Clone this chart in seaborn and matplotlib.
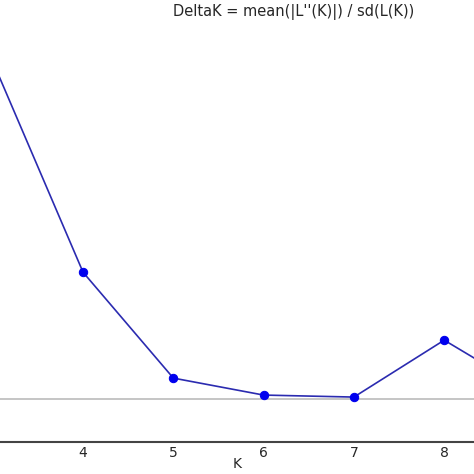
import numpy as np
import pandas as pd
import matplotlib
matplotlib.use("Agg")
import matplotlib.pyplot as plt
import seaborn as sns

# valeurs (unités arbitraires)
k_values = [3, 4, 5, 6, 7, 8, 9]
delta_k = [338, 127, 21, 4, 2, 59, 5]

df = pd.DataFrame({"K": k_values, "DeltaK": delta_k})

sns.set_style("white")
fig = plt.figure(figsize=(4.74, 4.74), dpi=100)
ax = fig.add_axes([0, 0.0675, 1, 0.87])

sns.lineplot(data=df, x="K", y="DeltaK", ax=ax, color="#2b2bb0", linewidth=1.2,
             marker="o", markersize=6, markerfacecolor="#0000ee", markeredgecolor="#0000ee")
ax.axhline(0, color="#bbbbbb", linewidth=1.2, zorder=0)

ax.set_xlim(3.08, 8.33)
ax.set_ylim(-43, 370)
ax.set_xticks([4, 5, 6, 7, 8])
ax.set_yticks([])
ax.set_ylabel("")
ax.set_xlabel("K", fontsize=10, labelpad=-2)
for s in ["top", "left", "right"]:
    ax.spines[s].set_visible(False)
ax.spines["bottom"].set_color("#444444")
ax.spines["bottom"].set_linewidth(1.5)
ax.tick_params(axis="x", direction="in", length=4, labelsize=10, pad=3, color="#444444")

fig.text(0.62, 0.975, "DeltaK = mean(|L''(K)|) / sd(L(K))", ha="center", va="center", fontsize=10.5)

fig.savefig("out.png", dpi=100)
